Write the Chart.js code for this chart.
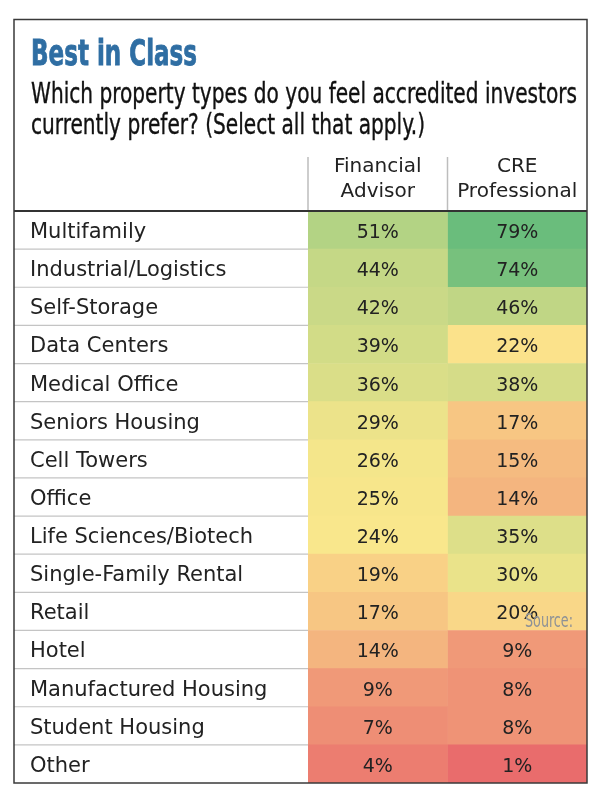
<!DOCTYPE html>
<html>
<head>
<meta charset="utf-8">
<script src="https://cdn.jsdelivr.net/npm/chart.js@4.4.0/dist/chart.umd.min.js"></script>
<style>
  html, body { margin: 0; padding: 0; background: #fff; }
  .heat { width: 599px; height: 803px; }
</style>
</head>
<body>
<div class="heat"><canvas id="heat"></canvas></div>
<script>
const propertyTypes = ['Multifamily', 'Industrial/Logistics', 'Self-Storage', 'Data Centers', 'Medical Office',
  'Seniors Housing', 'Cell Towers', 'Office', 'Life Sciences/Biotech', 'Single-Family Rental', 'Retail',
  'Hotel', 'Manufactured Housing', 'Student Housing', 'Other']
const columnLabels = [['Financial', 'Advisor'], ['CRE', 'Professional']]
const financialAdvisor = [51, 44, 42, 39, 36, 29, 26, 25, 24, 19, 17, 14, 9, 7, 4]
const creProfessional = [79, 74, 46, 22, 38, 17, 15, 14, 35, 30, 20, 9, 8, 8, 1]

const title = 'Best in Class'
const subtitle = ['Which property types do you feel accredited investors', 'currently prefer? (Select all that apply.)']
const sourceNote = 'Source:'

// 3 colour scale: red -> yellow (median) -> green
const allValues = financialAdvisor.concat(creProfessional)
const sorted = allValues.slice().sort((a, b) => a - b)
const vMin = sorted[0]
const vMax = sorted[sorted.length - 1]
const vMid = (sorted[sorted.length / 2 - 1] + sorted[sorted.length / 2]) / 2
const red = [233, 108, 108], yellow = [252, 232, 140], green = [106, 189, 124]

function mix(a, b, t) {
  return 'rgb(' + a.map((c, i) => Math.round(c + (b[i] - c) * t)).join(',') + ')'
}
function heat(v) {
  if (v <= vMid) return mix(red, yellow, (v - vMin) / (vMid - vMin))
  return mix(yellow, green, (v - vMid) / (vMax - vMid))
}

const columns = [financialAdvisor, creProfessional]
const datasets = columns.map((vals, c) => ({
  label: columnLabels[c].join(' '),
  data: vals.map((v, i) => ({ y: propertyTypes[i], x: [c, c + 1], v: v })),
  backgroundColor: (ctx) => heat(ctx.raw.v),
  borderWidth: 0,
  barPercentage: 1,
  categoryPercentage: 1,
  grouped: false,
}))

function fitted(ctx, text, x, y, sx, stroke) {
  ctx.save()
  ctx.translate(x, y)
  ctx.scale(sx, 1)
  ctx.fillText(text, 0, 0)
  if (stroke) {
    ctx.lineWidth = stroke
    ctx.strokeStyle = ctx.fillStyle
    ctx.strokeText(text, 0, 0)
  }
  ctx.restore()
}

const tableDecor = {
  id: 'tableDecor',
  afterDraw(chart) {
    const ctx = chart.ctx
    const area = chart.chartArea
    const yScale = chart.scales.y
    const xScale = chart.scales.x
    const boxLeft = 14, boxTop = 19.5, boxRight = area.right, boxBottom = area.bottom

    // row separators in the label column
    ctx.save()
    ctx.strokeStyle = '#c4c4c4'
    ctx.lineWidth = 1.2
    for (let i = 0; i < propertyTypes.length - 1; i++) {
      const y = (yScale.getPixelForValue(i) + yScale.getPixelForValue(i + 1)) / 2
      ctx.beginPath()
      ctx.moveTo(boxLeft, y)
      ctx.lineTo(area.left, y)
      ctx.stroke()
    }
    // header column dividers
    ctx.strokeStyle = '#bdbdbd'
    ctx.lineWidth = 1.5
    ;[area.left, xScale.getPixelForValue(1)].forEach((x) => {
      ctx.beginPath()
      ctx.moveTo(x, 157)
      ctx.lineTo(x, area.top)
      ctx.stroke()
    })
    // header rule
    ctx.strokeStyle = '#333'
    ctx.lineWidth = 2
    ctx.beginPath()
    ctx.moveTo(boxLeft, area.top)
    ctx.lineTo(boxRight, area.top)
    ctx.stroke()
    // outer box
    ctx.strokeStyle = '#3a3a3a'
    ctx.lineWidth = 1.5
    ctx.strokeRect(boxLeft, boxTop, boxRight - boxLeft, boxBottom - boxTop)

    // cell values
    ctx.fillStyle = '#222'
    ctx.font = '19px "DejaVu Sans"'
    ctx.textAlign = 'center'
    ctx.textBaseline = 'middle'
    chart.data.datasets.forEach((ds, d) => {
      chart.getDatasetMeta(d).data.forEach((el, i) => {
        ctx.fillText(ds.data[i].v + '%', (el.x + el.base) / 2, el.y + 3)
      })
    })

    // title + question
    ctx.textAlign = 'left'
    ctx.textBaseline = 'alphabetic'
    ctx.fillStyle = '#2f6ea3'
    ctx.font = 'bold 36px "DejaVu Sans Condensed", "DejaVu Sans"'
    fitted(ctx, title, 31, 65, 166 / ctx.measureText(title).width, 0.8)
    ctx.fillStyle = '#111'
    ctx.font = '28px "DejaVu Sans Condensed", "DejaVu Sans"'
    const sx = 546 / ctx.measureText(subtitle[0]).width
    fitted(ctx, subtitle[0], 31, 102.5, sx, 0.35)
    fitted(ctx, subtitle[1], 31, 133.5, sx, 0.35)

    // stray source note
    ctx.fillStyle = '#8d9196'
    ctx.font = '19px "DejaVu Sans Condensed", "DejaVu Sans"'
    fitted(ctx, sourceNote, 525, 627, 48 / ctx.measureText(sourceNote).width)
    ctx.restore()
  },
}

new Chart(document.getElementById('heat'), {
  type: 'bar',
  data: { labels: propertyTypes, datasets: datasets },
  options: {
    indexAxis: 'y',
    responsive: true,
    maintainAspectRatio: false,
    animation: false,
    layout: { padding: { left: 30, right: 12, top: 153.5, bottom: 20 } },
    plugins: { legend: { display: false }, tooltip: { enabled: false } },
    scales: {
      x: { type: 'linear', min: 0, max: 2, display: false },
      x2: {
        type: 'category',
        labels: columnLabels,
        position: 'top',
        offset: true,
        grid: { display: false, drawTicks: false },
        border: { display: false },
        ticks: {
          color: '#222',
          font: { family: 'DejaVu Sans', size: 20, lineHeight: 1.25 },
          padding: 7,
          maxRotation: 0,
          autoSkip: false,
        },
        afterFit: (s) => { s.height = 57.5 },
      },
      y: {
        type: 'category',
        offset: true,
        grid: { display: false, drawTicks: false },
        border: { display: false },
        ticks: {
          crossAlign: 'far',
          color: '#222',
          font: { family: 'DejaVu Sans', size: 21 },
          padding: 0,
          labelOffset: 2.5,
          autoSkip: false,
        },
        afterFit: (s) => { s.width = 278 },
      },
    },
  },
  plugins: [tableDecor],
})
</script>
</body>
</html>
